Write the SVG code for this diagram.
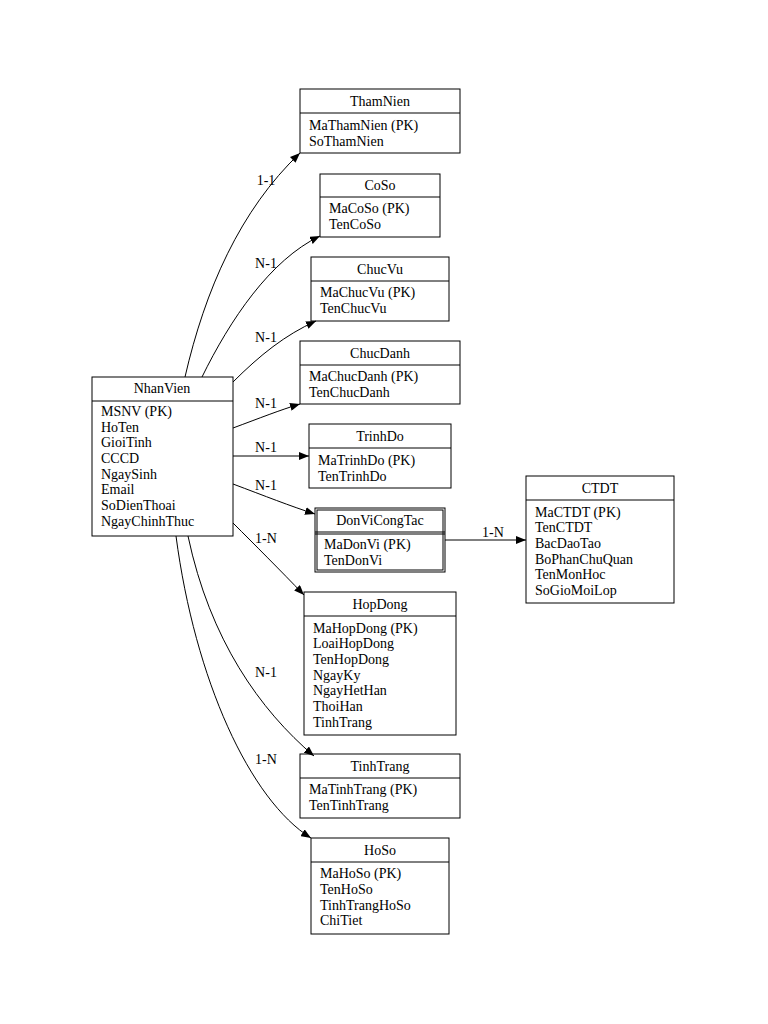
<svg xmlns="http://www.w3.org/2000/svg" width="768" height="1024" viewBox="0 0 768 1024">
<style>
text{font-family:"Liberation Serif","Times New Roman",serif;font-size:14px;fill:#000}
.h{text-anchor:middle}
rect,line.s{fill:none;stroke:#000;stroke-width:1}
.e path{fill:none;stroke:#000;stroke-width:1;marker-end:url(#a)}
</style>
<defs><marker id="a" markerWidth="10" markerHeight="8" refX="10" refY="4" orient="auto" markerUnits="userSpaceOnUse"><path d="M0,0L10,4L0,8z" fill="#000"/></marker></defs>
<rect width="768" height="1024" fill="#fff" style="stroke:none"/>
<g class="e">
<path d="M185,377C205,290 240,210 300,153"/>
<path d="M202,377C230,320 270,260 320,236"/>
<path d="M233,382C260,355 285,335 316,321"/>
<path d="M233,428C260,418 280,410 300,404"/>
<path d="M233,456L309,456"/>
<path d="M233,484C265,496 290,506 315,514"/>
<path d="M445,540L526,540"/>
<path d="M233,523C255,545 280,570 304,595"/>
<path d="M188,536C210,640 260,710 314,756"/>
<path d="M176,536C195,680 250,800 311,838"/>
<text x="266" y="185" class="h">1-1</text>
<text x="266" y="268" class="h">N-1</text>
<text x="266" y="342" class="h">N-1</text>
<text x="266" y="408" class="h">N-1</text>
<text x="266" y="452" class="h">N-1</text>
<text x="266" y="490" class="h">N-1</text>
<text x="493" y="537" class="h">1-N</text>
<text x="266" y="543" class="h">1-N</text>
<text x="266" y="677" class="h">N-1</text>
<text x="266" y="764" class="h">1-N</text>
</g>
<g id="NhanVien"><rect x="92" y="377" width="141" height="159"/><line class="s" x1="92" y1="401" x2="233" y2="401"/><text x="162" y="393" class="h">NhanVien</text><text x="101" y="416">MSNV (PK)</text><text x="101" y="432">HoTen</text><text x="101" y="447">GioiTinh</text><text x="101" y="463">CCCD</text><text x="101" y="479">NgaySinh</text><text x="101" y="494">Email</text><text x="101" y="510">SoDienThoai</text><text x="101" y="526">NgayChinhThuc</text></g>
<g id="ThamNien"><rect x="300" y="89" width="160" height="64"/><line class="s" x1="300" y1="113" x2="460" y2="113"/><text x="380" y="106" class="h">ThamNien</text><text x="309" y="130">MaThamNien (PK)</text><text x="309" y="146">SoThamNien</text></g>
<g id="CoSo"><rect x="320" y="174" width="120" height="63"/><line class="s" x1="320" y1="197" x2="440" y2="197"/><text x="380" y="190" class="h">CoSo</text><text x="329" y="213">MaCoSo (PK)</text><text x="329" y="229">TenCoSo</text></g>
<g id="ChucVu"><rect x="311" y="257" width="138" height="64"/><line class="s" x1="311" y1="281" x2="449" y2="281"/><text x="380" y="274" class="h">ChucVu</text><text x="320" y="297">MaChucVu (PK)</text><text x="320" y="313">TenChucVu</text></g>
<g id="ChucDanh"><rect x="300" y="341" width="160" height="63"/><line class="s" x1="300" y1="365" x2="460" y2="365"/><text x="380" y="358" class="h">ChucDanh</text><text x="309" y="381">MaChucDanh (PK)</text><text x="309" y="397">TenChucDanh</text></g>
<g id="TrinhDo"><rect x="309" y="424" width="142" height="64"/><line class="s" x1="309" y1="448" x2="451" y2="448"/><text x="380" y="441" class="h">TrinhDo</text><text x="318" y="465">MaTrinhDo (PK)</text><text x="318" y="481">TenTrinhDo</text></g>
<g id="DonViCongTac"><rect x="315" y="508" width="130" height="64"/><rect x="317" y="510" width="126" height="60"/><line class="s" x1="315" y1="532" x2="445" y2="532"/><line class="s" x1="315" y1="534" x2="445" y2="534"/><text x="380" y="525" class="h">DonViCongTac</text><text x="324" y="549">MaDonVi (PK)</text><text x="324" y="565">TenDonVi</text></g>
<g id="CTDT"><rect x="526" y="476" width="148" height="127"/><line class="s" x1="526" y1="500" x2="674" y2="500"/><text x="600" y="493" class="h">CTDT</text><text x="535" y="517">MaCTDT (PK)</text><text x="535" y="532">TenCTDT</text><text x="535" y="548">BacDaoTao</text><text x="535" y="564">BoPhanChuQuan</text><text x="535" y="579">TenMonHoc</text><text x="535" y="595">SoGioMoiLop</text></g>
<g id="HopDong"><rect x="304" y="592" width="152" height="143"/><line class="s" x1="304" y1="616" x2="456" y2="616"/><text x="380" y="609" class="h">HopDong</text><text x="313" y="633">MaHopDong (PK)</text><text x="313" y="648">LoaiHopDong</text><text x="313" y="664">TenHopDong</text><text x="313" y="680">NgayKy</text><text x="313" y="695">NgayHetHan</text><text x="313" y="711">ThoiHan</text><text x="313" y="727">TinhTrang</text></g>
<g id="TinhTrang"><rect x="300" y="754" width="160" height="64"/><line class="s" x1="300" y1="778" x2="460" y2="778"/><text x="380" y="771" class="h">TinhTrang</text><text x="309" y="794">MaTinhTrang (PK)</text><text x="309" y="810">TenTinhTrang</text></g>
<g id="HoSo"><rect x="311" y="838" width="138" height="96"/><line class="s" x1="311" y1="862" x2="449" y2="862"/><text x="380" y="855" class="h">HoSo</text><text x="320" y="878">MaHoSo (PK)</text><text x="320" y="894">TenHoSo</text><text x="320" y="910">TinhTrangHoSo</text><text x="320" y="925">ChiTiet</text></g>
</svg>
